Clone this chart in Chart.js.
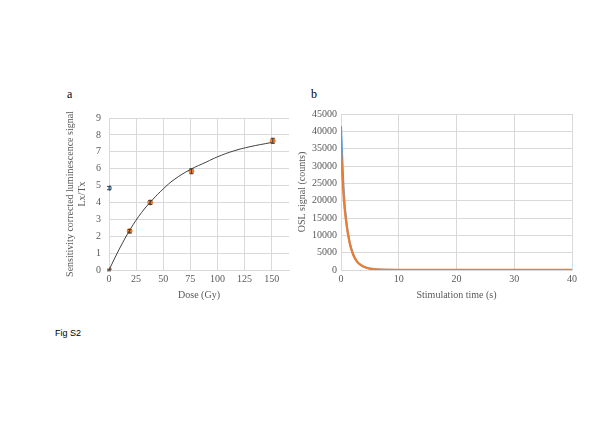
<!DOCTYPE html>
<html><head><script src="https://cdn.jsdelivr.net/npm/chart.js@4"></script>
<style>body{margin:0;width:600px;height:424px;background:#fff;position:relative;font-family:"Liberation Serif"}
.c{position:absolute}
.lbl{position:absolute;font-size:12px;color:#000;font-family:"Liberation Serif"}
</style></head><body>
<div class="lbl" style="left:67px;top:87px">a</div>
<div class="lbl" style="left:311px;top:87px">b</div>
<div class="lbl" style="left:55px;top:328px;font-family:'Liberation Sans';font-size:9px">Fig S2</div>
<div class="c" style="left:64px;top:104px;width:230px;height:198px"><canvas id="a"></canvas></div>
<div class="c" style="left:296px;top:104px;width:284px;height:198px"><canvas id="b"></canvas></div>
<script>
const doseMeasured=[0,19,38,76,151];
const lxtxMeasured=[0,2.3,4.0,5.85,7.65];
const lxtxErr=[0.05,0.1,0.12,0.15,0.15];
const naturalDose=[0];
const naturalLxTx=[4.85];
const naturalErr=[0.1];
const fitDose=[0,10,20,30,40,50,60,75,90,100,115,130,150];
const fitLxTx=[0,1.3,2.45,3.4,4.15,4.8,5.35,5.95,6.4,6.7,7.05,7.3,7.55];
const yTicksA=[0,1,2,3,4,5,6,7,8,9];
const xTicksA=[0,25,50,75,100,125,150];
const time=[0,0.5,1,1.5,2,2.5,3,4,5,6,7,8,10,15,20,30,40];
const oslBlue=[41500,22000,13000,8000,5000,3200,2000,900,400,200,100,60,30,20,15,10,10];
const oslOrange=[34500,20000,12500,7800,4900,3100,2000,900,400,200,100,60,30,20,15,10,10];
const xTicksB=[0,10,20,30,40];

const gray='#595959', grid='#d9d9d9';
const font={family:'Liberation Serif',size:10};
const blue='#5b9bd5', orange='#ed7d31';
const errPlugin={id:'err',afterDatasetsDraw(ch){
  const {ctx,scales:{x,y}}=ch;ctx.save();ctx.strokeStyle='#404040';ctx.lineWidth=1;
  ch.data.datasets.forEach(ds=>{if(!ds.err)return;ds.data.forEach((p,i)=>{
    const px=x.getPixelForValue(p.x),t=y.getPixelForValue(p.y+ds.err[i]),b=y.getPixelForValue(p.y-ds.err[i]);
    ctx.beginPath();ctx.moveTo(px,t);ctx.lineTo(px,b);ctx.moveTo(px-2,t);ctx.lineTo(px+2,t);ctx.moveTo(px-2,b);ctx.lineTo(px+2,b);ctx.stroke();});});
  ctx.restore();}};
const pts=(xs,ys)=>xs.map((v,i)=>({x:v,y:ys[i]}));
new Chart(document.getElementById('a'),{type:'scatter',plugins:[errPlugin],
 data:{datasets:[
  {type:'line',data:pts(fitDose,fitLxTx),borderColor:'#404040',borderWidth:1,pointRadius:0,tension:0.4,showLine:true},
  {data:pts(doseMeasured,lxtxMeasured),err:lxtxErr,backgroundColor:orange,borderColor:orange,pointRadius:2.5},
  {data:pts(naturalDose,naturalLxTx),err:naturalErr,backgroundColor:blue,borderColor:blue,pointRadius:2.5}]},
 options:{animation:false,responsive:true,maintainAspectRatio:false,plugins:{legend:{display:false},tooltip:{enabled:false}},
  scales:{x:{type:'linear',min:0,max:166,afterBuildTicks:s=>{s.ticks=xTicksA.map(v=>({value:v}))},
     ticks:{color:gray,font},grid:{color:grid,drawTicks:false},border:{color:grid},
     title:{display:true,text:'Dose (Gy)',color:gray,font,padding:1}},
   y:{min:0,max:9,afterBuildTicks:s=>{s.ticks=yTicksA.map(v=>({value:v}))},
     ticks:{color:gray,font,padding:8},grid:{color:grid,drawTicks:false},border:{color:grid},
     title:{display:true,text:['Sensitivity corrected luminescence signal','Lx/Tx'],color:gray,font,padding:0}}}}});
new Chart(document.getElementById('b'),{type:'scatter',
 data:{datasets:[
  {data:pts(time,oslOrange),borderColor:orange,borderWidth:2.2,pointRadius:0,showLine:true,cubicInterpolationMode:'monotone'},
  {data:pts(time,oslBlue),borderColor:blue,borderWidth:2,pointRadius:0,showLine:true,cubicInterpolationMode:'monotone'}]},
 options:{animation:false,responsive:true,maintainAspectRatio:false,plugins:{legend:{display:false},tooltip:{enabled:false}},
  scales:{x:{type:'linear',min:0,max:40,afterBuildTicks:s=>{s.ticks=xTicksB.map(v=>({value:v}))},
     ticks:{color:gray,font},grid:{color:grid,drawTicks:false},border:{color:grid},
     title:{display:true,text:'Stimulation time (s)',color:gray,font,padding:1}},
   y:{min:0,max:45000,ticks:{stepSize:5000,color:gray,font,padding:4,callback:v=>String(v)},grid:{color:grid,drawTicks:false},border:{color:grid},
     title:{display:true,text:'OSL signal (counts)',color:gray,font,padding:0}}}}});
</script></body></html>
